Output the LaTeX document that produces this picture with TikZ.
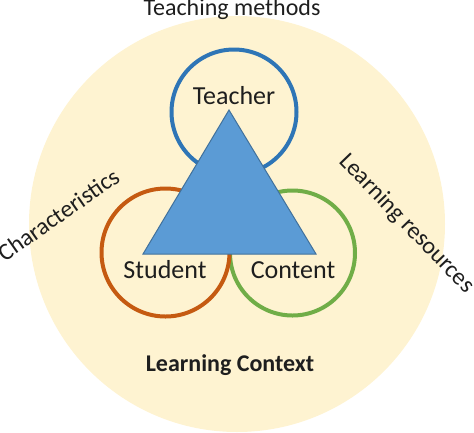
\documentclass[tikz,border=0pt]{standalone}
\usepackage{fontspec}
\setmainfont{Carlito}
\definecolor{ctxbg}{HTML}{FEF3D1}
\definecolor{teacherblue}{HTML}{2E75B6}
\definecolor{studentorange}{HTML}{C55A11}
\definecolor{contentgreen}{HTML}{70AD47}
\definecolor{trifill}{HTML}{5B9BD5}
\definecolor{triedge}{HTML}{41719C}
\definecolor{ink}{HTML}{1E1E1E}
\tikzset{ring/.style={circle, draw, line width=4pt, minimum size=125pt, inner sep=0pt}, word/.style={anchor=base, inner sep=0pt, text=ink, font=\fontsize{26}{30}\selectfont}, side/.style={word, font=\fontsize{24}{28}\selectfont}}

\begin{document}
\begin{tikzpicture}[x=1pt, y=-1pt]
    \useasboundingbox (0,0) rectangle (474,432);
    \node[circle, fill=ctxbg, minimum size=416pt, inner sep=0pt] (context) at (237,224) {};

    \node[ring, draw=contentgreen]                      (contentring) at (292.5,253) {};
    \node[ring, draw=studentorange, minimum size=128pt] (studentring) at (165.5,252.5) {};
    \node[ring, draw=teacherblue]                       (teacherring) at (234,112) {};

    \coordinate (apex)  at (229,110);
    \coordinate (left)  at (143,254);
    \coordinate (right) at (316,254);
    \filldraw[fill=trifill, draw=triedge, line width=1pt] (apex) -- (left) -- (right) -- cycle;

    \node[word]                   (teacher)   at (234,104)   {Teacher};
    \node[word]                   (student)   at (165,278)   {Student};
    \node[word]                   (content)   at (293,278)   {Content};
    \node[side, font=\bfseries\fontsize{24}{28}\selectfont]
                                  (learning)  at (230,371)   {Learning Context};
    \node[side]                   (methods)   at (232,15.5)  {Teaching methods};
    \node[side, rotate=35]        (traits)    at (63,221.5)  {Characteristics};
    \node[side, rotate=-46]       (resources) at (402,228)   {Learning resources};
\end{tikzpicture}
\end{document}
